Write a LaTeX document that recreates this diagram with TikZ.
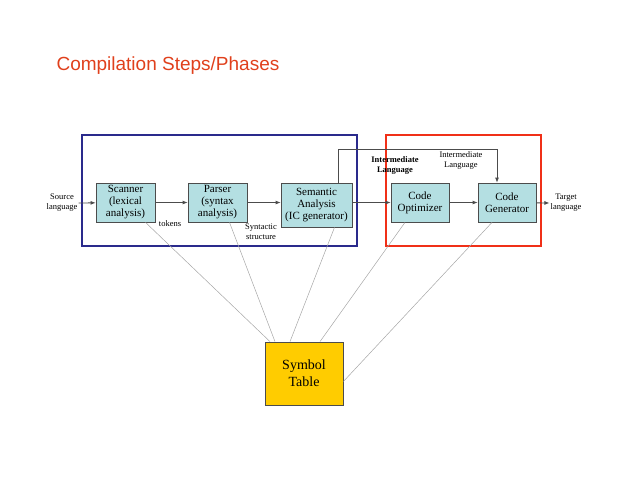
\documentclass[tikz,border=0pt]{standalone}
\usepackage{fontspec}
\setmainfont{Liberation Serif}
\newfontfamily\titlefont{Liberation Sans}
\usetikzlibrary{arrows.meta}
\definecolor{boxfill}{HTML}{B4DFE2}
\definecolor{symfill}{HTML}{FFCC00}
\definecolor{titlecol}{HTML}{E0401C}
\definecolor{blueframe}{HTML}{2A2A8C}
\definecolor{redframe}{HTML}{F03018}
\tikzset{
  phase/.style={draw=black!70, fill=boxfill, line width=0.8pt, minimum width=#1, minimum height=39pt, inner sep=1pt, align=center, font=\fontsize{11}{12}\selectfont},
  lbl/.style={align=center, font=\fontsize{8.5}{10}\selectfont, inner sep=1pt},
  flow/.style={draw=black!70, line width=0.8pt, -{Latex[length=5pt,width=4pt]}},
  link/.style={draw=black!35, line width=0.5pt}
}
\begin{document}
\begin{tikzpicture}[x=1pt,y=-1pt]
\useasboundingbox (0,0) rectangle (638,493);
\node[anchor=west, text=titlecol, font=\titlefont\fontsize{19}{22}\selectfont] (title) at (53,66) {Compilation Steps/Phases};
\draw[blueframe, line width=1.6pt] (82,135) rectangle (357,246);
\draw[redframe, line width=2pt] (386,135) rectangle (541,246);
\node[phase=59pt] (scan) at (125.5,202.5) {Scanner\\(lexical\\analysis)};
\node[phase=59pt] (pars) at (217.5,202.5) {Parser\\(syntax\\analysis)};
\node[phase=71pt, minimum height=44pt] (sem) at (316.5,205) {Semantic\\Analysis\\(IC generator)};
\node[phase=58pt] (opt) at (420,202.5) {Code\\Optimizer};
\node[phase=58pt] (gen) at (507,202.5) {Code\\Generator};
\node[draw=black!70, fill=symfill, line width=0.8pt, minimum width=78pt, minimum height=63pt, align=center, font=\fontsize{14}{17}\selectfont] (sym) at (304,373.5) {Symbol\\Table};
\node[lbl] (src) at (62,203) {Source\\language};
\node[lbl] (tgt) at (566,203) {Target\\language};
\node[lbl] (tok) at (170,224) {tokens};
\node[lbl] (syn) at (261,232) {Syntactic\\structure};
\node[lbl, font=\bfseries\fontsize{8.5}{10}\selectfont] (il1) at (395,165) {Intermediate\\Language};
\node[lbl] (il2) at (461,160) {Intermediate\\Language};
\draw[flow] (src.east) -- (scan);
\draw[flow] (scan) -- (pars);
\draw[flow] (pars) -- (pars -| sem.west);
\draw[flow] (sem.east |- opt) -- (opt);
\draw[flow] (opt) -- (gen);
\draw[flow] (gen) -- (tgt.west);
\coordinate (fb1) at (338,149);
\coordinate (fb2) at (497,149);
\draw[flow] (sem.north -| fb1) -- (fb1) -- (fb2) -- (gen.north -| fb2);
\draw[link] ([xshift=20pt]scan.south) -- ([xshift=-34pt]sym.north);
\draw[link] ([xshift=12pt]pars.south) -- ([xshift=-29pt]sym.north);
\draw[link] ([xshift=18pt]sem.south) -- ([xshift=-14pt]sym.north);
\draw[link] ([xshift=-15pt]opt.south) -- ([xshift=16pt]sym.north);
\draw[link] ([xshift=-15pt]gen.south) -- ([yshift=-8pt]sym.east);
\end{tikzpicture}
\end{document}
